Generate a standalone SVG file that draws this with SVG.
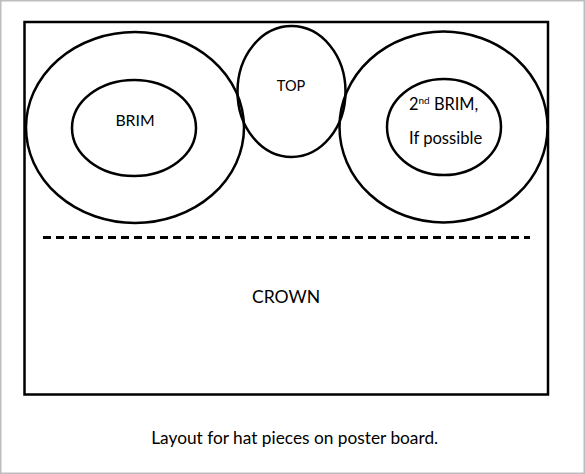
<svg xmlns="http://www.w3.org/2000/svg" width="585" height="474" viewBox="0 0 585 474">
  <style>
    .ln { fill: none; stroke: #000; stroke-width: 2.5; }
    .tx { font-family: Lato, "Liberation Sans", Arial, sans-serif; fill: #000; }
  </style>
  <rect x="0" y="0" width="585" height="474" fill="#fff"/>
  <rect x="0.75" y="0.75" width="583.5" height="472.5" fill="none" stroke="#bdbdbd" stroke-width="1.5"/>
  <g id="board">
    <rect class="ln" x="24.5" y="22" width="523.5" height="372.5"/>
  </g>
  <g id="brim">
    <ellipse class="ln" cx="135" cy="127.5" rx="109" ry="95.5"/>
    <ellipse class="ln" cx="134" cy="128" rx="62" ry="48"/>
    <text class="tx" x="135" y="126" font-size="15.8" text-anchor="middle">BRIM</text>
  </g>
  <g id="top">
    <ellipse class="ln" cx="291.5" cy="91.5" rx="54" ry="65.5"/>
    <text class="tx" x="291" y="90.5" font-size="14.5" text-anchor="middle">TOP</text>
  </g>
  <g id="brim2">
    <ellipse class="ln" cx="443.5" cy="127" rx="104" ry="95.5"/>
    <ellipse class="ln" cx="444" cy="127" rx="57" ry="48"/>
    <text class="tx" x="409" y="110" font-size="16.4">2<tspan font-size="10" dy="-6.5">nd</tspan><tspan dy="6.5"> BRIM,</tspan></text>
    <text class="tx" x="409" y="144" font-size="16.6">If possible</text>
  </g>
  <g id="connectors">
    <line x1="43" y1="237.5" x2="530" y2="237.5" stroke="#000" stroke-width="3" stroke-dasharray="8 5"/>
  </g>
  <g id="crown">
    <text class="tx" x="286" y="302.5" font-size="17.6" text-anchor="middle">CROWN</text>
  </g>
  <g id="caption">
    <text class="tx" x="294.7" y="444" font-size="17.3" text-anchor="middle">Layout for hat pieces on poster board.</text>
  </g>
</svg>
